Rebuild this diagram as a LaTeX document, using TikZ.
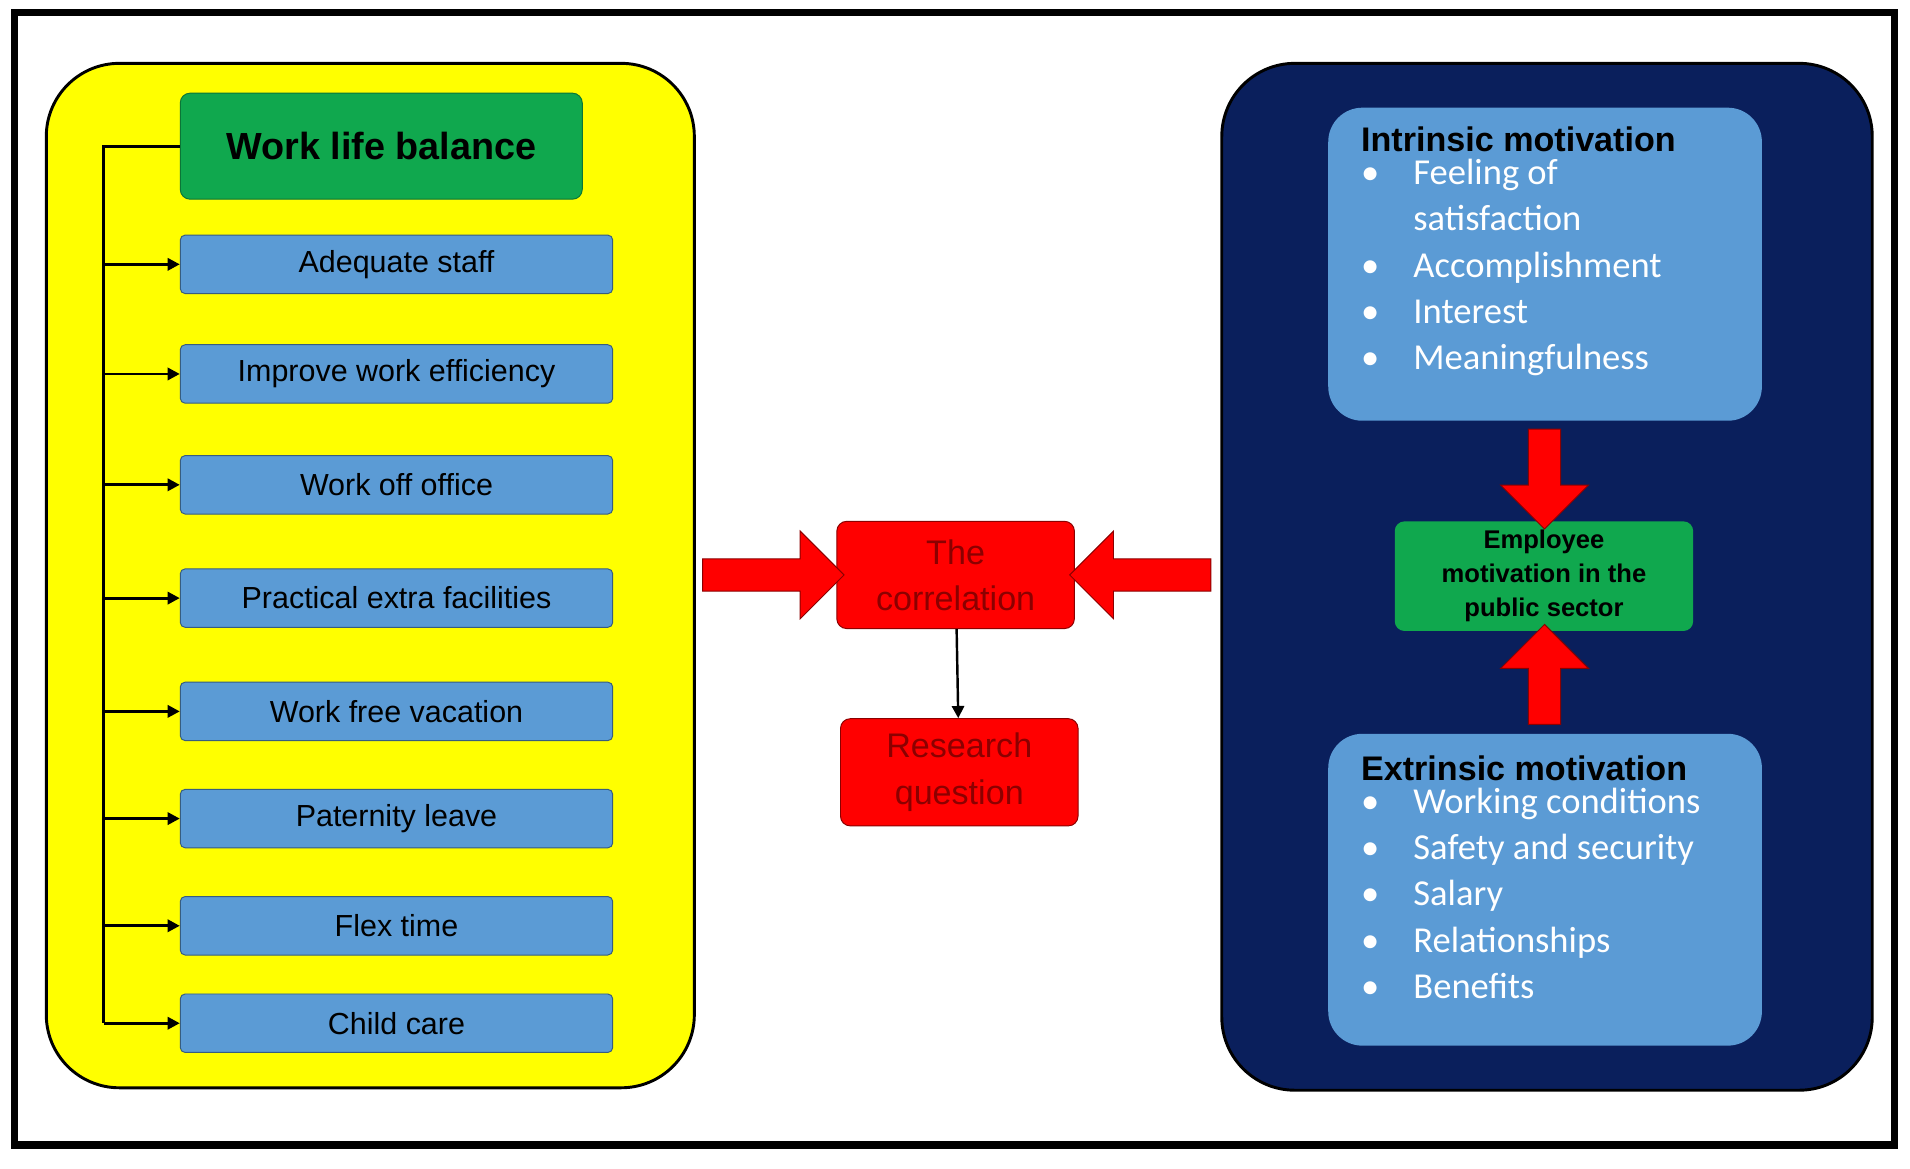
\documentclass[tikz,border=0pt]{standalone}
\usepackage{fontspec}
\setmainfont{Liberation Sans}
\newfontfamily\calib{Carlito}
\usetikzlibrary{arrows.meta, shapes.arrows, calc}
\definecolor{wlbYellow}{HTML}{FFFF00}
\definecolor{wlbGreen}{HTML}{10A84E}
\definecolor{wlbBlue}{HTML}{5B9BD5}
\definecolor{wlbNavy}{HTML}{0A1F5C}
\definecolor{wlbLight}{HTML}{5B9BD5}
\definecolor{wlbRed}{HTML}{FF0000}
\definecolor{wlbDark}{HTML}{8B0000}
\tikzset{
  item/.style={draw=wlbBlue!60!black, fill=wlbBlue, rounded corners=2pt, minimum width=177.5pt, minimum height=24pt, font=\fontsize{12.5}{14}\selectfont},
  redbox/.style={draw=wlbDark, fill=wlbRed, rounded corners=4pt, minimum width=97.5pt, minimum height=44pt, align=center, text=wlbDark, font=\fontsize{14}{19}\selectfont},
  motive/.style={fill=wlbLight, rounded corners=14pt, minimum width=178pt, align=left, anchor=north west, inner sep=0pt},
  block/.style={single arrow, fill=wlbRed, draw=wlbDark, minimum width=36pt, single arrow head extend=9pt, inner sep=5pt},
}
\newcommand{\bl}[1]{\textbullet & #1\\}
\begin{document}
\begin{tikzpicture}[x=0.5pt, y=-0.5pt]
  \useasboundingbox (0,0) rectangle (1568,959);
  \draw[line width=3pt] (12,10) rectangle (1555,940);

  % left panel
  \draw[fill=wlbYellow, line width=1.2pt, rounded corners=30pt] (38,52) rectangle (570,893);
  \node[draw=wlbGreen!70!black, fill=wlbGreen, rounded corners=4pt, minimum width=165pt, minimum height=43.5pt, font=\fontsize{15.5}{18}\bfseries] (wlb) at (313,120) {Work life balance};
  \foreach \n/\y/\t in {a/217/Adequate staff, b/307/Improve work efficiency, c/398/Work off office, d/491/Practical extra facilities, e/584/Work free vacation, f/672/Paternity leave, g/760/Flex time, h/840/Child care} {
    \node[item] (\n) at (325.5,\y) {\t};
    \coordinate (s\n) at (85,\y);
    \draw[line width=1.2pt, -{Triangle[length=5pt,width=5pt]}] (s\n) -- (\n.west);
  }
  \draw[line width=1.2pt] (wlb.west) -| (sh);

  % centre
  \node[redbox] (corr) at (784.5,472) {The\\correlation};
  \node[redbox] (rq) at (787.5,634) {Research\\question};
  \draw[line width=1pt, -{Triangle[length=5pt,width=5pt]}] (corr) -- (rq);

  % right panel
  \draw[fill=wlbNavy, line width=1.2pt, rounded corners=30pt] (1003,52) rectangle (1537,895);
  \node[motive, minimum height=128.5pt] (intr) at (1090,88) {};
  \node[anchor=north west, align=left, inner sep=0pt] at (1117,104) {%
    {\fontsize{14}{16}\bfseries Intrinsic motivation}\\[-1pt]
    {\calib\fontsize{15}{19}\selectfont\color{white}%
    \begin{tabular}{@{}l@{\hspace{14pt}}l@{}}
    \bl{Feeling of} & satisfaction\\ \bl{Accomplishment} \bl{Interest} \bl{Meaningfulness}
    \end{tabular}}};
  \node[motive, minimum height=128pt] (extr) at (1090,602) {};
  \node[anchor=north west, align=left, inner sep=0pt] at (1117,620) {%
    {\fontsize{14}{16}\bfseries Extrinsic motivation}\\[-1pt]
    {\calib\fontsize{15}{19}\selectfont\color{white}%
    \begin{tabular}{@{}l@{\hspace{14pt}}l@{}}
    \bl{Working conditions} \bl{Safety and security} \bl{Salary} \bl{Relationships} \bl{Benefits}
    \end{tabular}}};
  \node[fill=wlbGreen, rounded corners=4pt, minimum width=122.5pt, minimum height=45pt, align=center, font=\fontsize{10.5}{14}\bfseries] (emp) at (1267.5,473) {Employee\\motivation in the\\public sector};

  % block arrows
  \node[block, minimum height=58pt] at ($(570,472)!0.5!(corr.west)$) {};
  \node[block, minimum height=58pt, shape border rotate=180] at ($(1003,472)!0.5!(corr.east)$) {};
  \node[block, minimum height=41pt, shape border rotate=270] at ($(intr.south)!0.5!(emp.north)$) {};
  \node[block, minimum height=41pt, shape border rotate=90] at ($(extr.north)!0.5!(emp.south)$) {};
\end{tikzpicture}
\end{document}
